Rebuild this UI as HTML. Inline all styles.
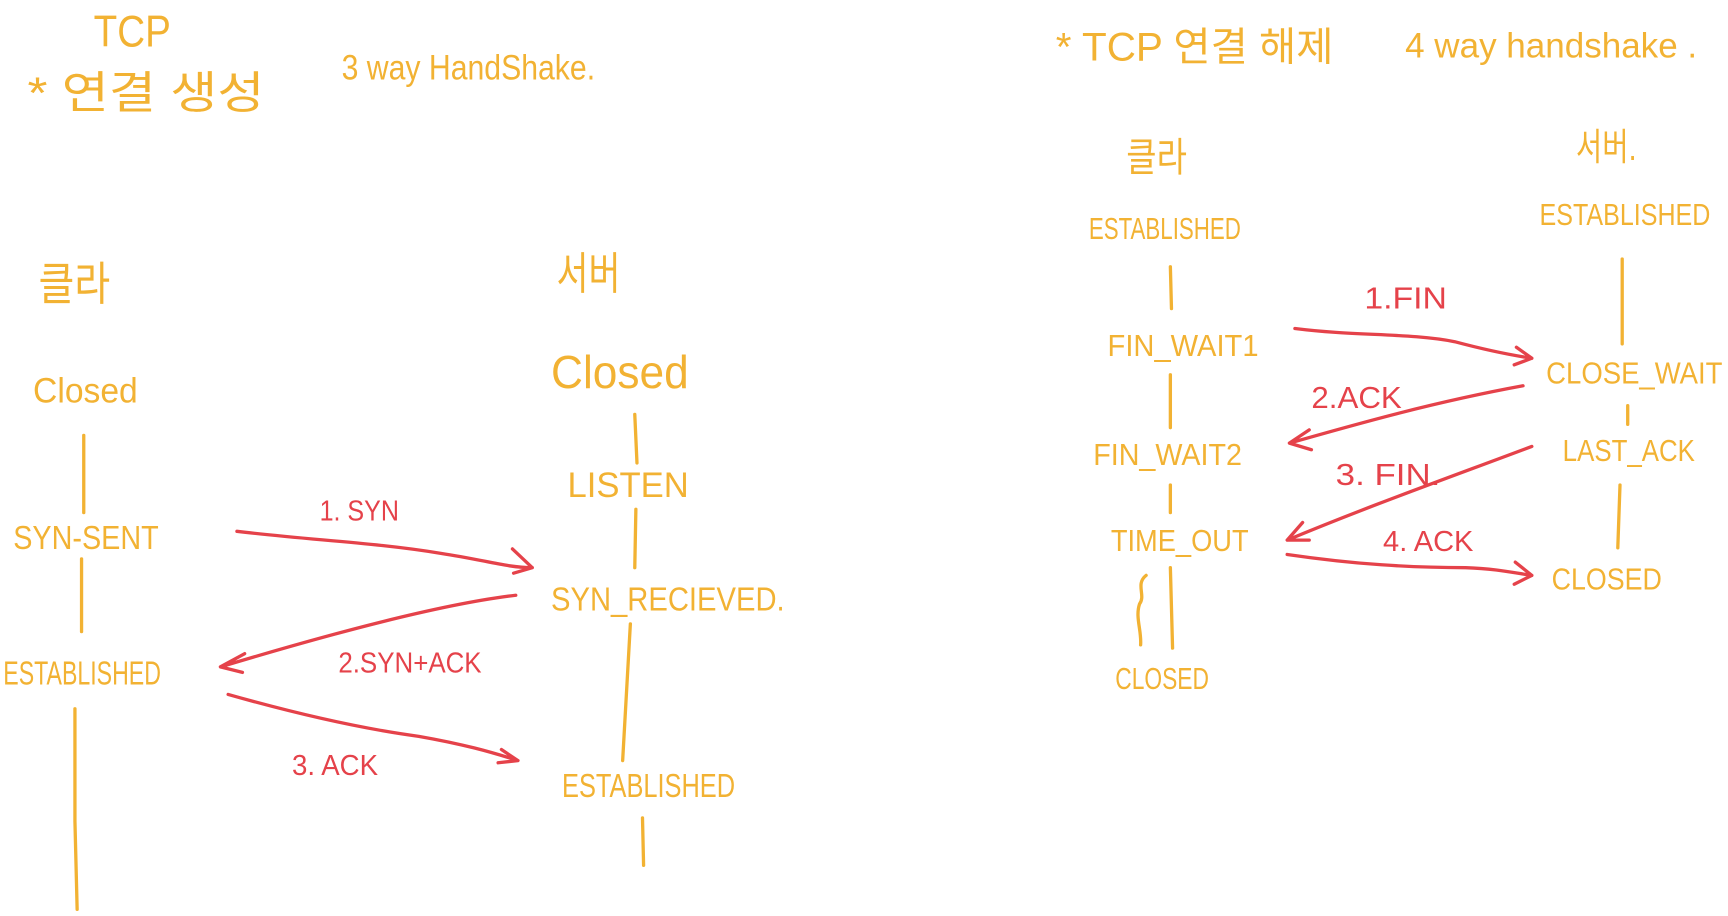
<!DOCTYPE html>
<html><head><meta charset="utf-8"><style>
html,body{margin:0;padding:0;background:#fff;width:1728px;height:916px;overflow:hidden}
svg{display:block}
text{font-family:"Liberation Sans","Noto Sans CJK KR",sans-serif}
.o{fill:#F2B233}
.r{fill:#E5424A}
.lo{stroke:#F2B233;stroke-width:3;fill:none;stroke-linecap:round}
.lr{stroke:#E5424A;stroke-width:3;fill:none;stroke-linecap:round;stroke-linejoin:round}
</style></head><body>
<svg width="1728" height="916" viewBox="0 0 1568 831" preserveAspectRatio="none" xmlns="http://www.w3.org/2000/svg">
<text class="o" x="85" y="42" font-size="40" textLength="70" lengthAdjust="spacingAndGlyphs">TCP</text>
<text class="o" x="25" y="98" font-size="40" textLength="215" lengthAdjust="spacingAndGlyphs">* 연결 생성</text>
<text class="o" x="310" y="72" font-size="32" textLength="230" lengthAdjust="spacingAndGlyphs">3 way HandShake.</text>
<text class="o" x="35" y="272" font-size="42" textLength="65" lengthAdjust="spacingAndGlyphs">클라</text>
<text class="o" x="505" y="262" font-size="40" textLength="58" lengthAdjust="spacingAndGlyphs">서버</text>
<text class="o" x="30" y="365" font-size="32" textLength="95" lengthAdjust="spacingAndGlyphs">Closed</text>
<text class="o" x="500" y="352" font-size="42" textLength="125" lengthAdjust="spacingAndGlyphs">Closed</text>
<path class="lo" d="M76 395 L76 465"/>
<path class="lo" d="M576 376 L578 420 M577 462 L576 515"/>
<text class="o" x="515" y="451" font-size="32" textLength="110" lengthAdjust="spacingAndGlyphs">LISTEN</text>
<text class="o" x="12" y="498" font-size="30" textLength="132" lengthAdjust="spacingAndGlyphs">SYN-SENT</text>
<path class="lo" d="M74 507 L74 573"/>
<text class="o" x="500" y="554" font-size="30" textLength="212" lengthAdjust="spacingAndGlyphs">SYN_RECIEVED.</text>
<text class="o" x="3" y="621" font-size="30" textLength="143" lengthAdjust="spacingAndGlyphs">ESTABLISHED</text>
<path class="lo" d="M68 643 L68 745 L70 825"/>
<path class="lo" d="M572 566 L565 690"/>
<text class="o" x="510" y="723" font-size="30" textLength="157" lengthAdjust="spacingAndGlyphs">ESTABLISHED</text>
<path class="lo" d="M583 742 L584 785"/>
<path class="lr" d="M215 482 C280 490 340 492 400 502 C440 508 460 515 483 515 M465 498 L483 515 L466 520"/>
<text class="r" x="290" y="472" font-size="26" textLength="72" lengthAdjust="spacingAndGlyphs">1. SYN</text>
<path class="lr" d="M468 540 C400 548 300 575 200 605 M222 593 L200 605 L220 610"/>
<text class="r" x="307" y="610" font-size="26" textLength="130" lengthAdjust="spacingAndGlyphs">2.SYN+ACK</text>
<path class="lr" d="M207 630 C260 645 320 660 380 668 C420 675 445 682 470 690 M455 680 L470 690 L452 692"/>
<text class="r" x="265" y="703" font-size="26" textLength="78" lengthAdjust="spacingAndGlyphs">3. ACK</text>
<text class="o" x="958" y="55" font-size="36" textLength="252" lengthAdjust="spacingAndGlyphs">* TCP 연결 해제</text>
<text class="o" x="1275" y="52" font-size="32" textLength="265" lengthAdjust="spacingAndGlyphs">4 way handshake .</text>
<text class="o" x="1022" y="155" font-size="36" textLength="55" lengthAdjust="spacingAndGlyphs">클라</text>
<text class="o" x="1430" y="145" font-size="34" textLength="55" lengthAdjust="spacingAndGlyphs">서버.</text>
<text class="o" x="988" y="217" font-size="28" textLength="138" lengthAdjust="spacingAndGlyphs">ESTABLISHED</text>
<text class="o" x="1397" y="204" font-size="28" textLength="155" lengthAdjust="spacingAndGlyphs">ESTABLISHED</text>
<path class="lo" d="M1062 242 L1063 280 M1472 235 L1472 312 M1062 340 L1062 388 M1477 368 L1477 385 M1470 440 L1468 497 M1062 440 L1062 465 M1062 515 L1064 588"/>
<path class="lo" d="M1040 522 C1030 530 1040 540 1034 548 C1030 560 1036 572 1035 585"/>
<text class="o" x="1005" y="323" font-size="28" textLength="137" lengthAdjust="spacingAndGlyphs">FIN_WAIT1</text>
<text class="o" x="1403" y="348" font-size="28" textLength="160" lengthAdjust="spacingAndGlyphs">CLOSE_WAIT</text>
<text class="o" x="992" y="422" font-size="28" textLength="135" lengthAdjust="spacingAndGlyphs">FIN_WAIT2</text>
<text class="o" x="1418" y="418" font-size="28" textLength="120" lengthAdjust="spacingAndGlyphs">LAST_ACK</text>
<text class="o" x="1008" y="500" font-size="28" textLength="125" lengthAdjust="spacingAndGlyphs">TIME_OUT</text>
<text class="o" x="1408" y="535" font-size="28" textLength="100" lengthAdjust="spacingAndGlyphs">CLOSED</text>
<text class="o" x="1012" y="625" font-size="28" textLength="85" lengthAdjust="spacingAndGlyphs">CLOSED</text>
<path class="lr" d="M1175 298 C1230 305 1280 302 1320 310 C1350 318 1370 322 1390 325 M1376 315 L1390 325 L1374 331"/>
<text class="r" x="1238" y="280" font-size="28" textLength="75" lengthAdjust="spacingAndGlyphs">1.FIN</text>
<path class="lr" d="M1382 350 C1300 365 1230 385 1170 402 M1188 390 L1170 402 L1190 408"/>
<text class="r" x="1190" y="370" font-size="28" textLength="82" lengthAdjust="spacingAndGlyphs">2.ACK</text>
<path class="lr" d="M1390 405 C1310 435 1240 460 1168 490 M1182 474 L1168 490 L1188 490"/>
<text class="r" x="1212" y="440" font-size="28" textLength="95" lengthAdjust="spacingAndGlyphs">3. FIN.</text>
<path class="lr" d="M1168 503 C1230 512 1280 515 1330 515 C1360 516 1375 520 1390 522 M1375 510 L1390 522 L1374 530"/>
<text class="r" x="1255" y="500" font-size="26" textLength="82" lengthAdjust="spacingAndGlyphs">4. ACK</text>
</svg>
</body></html>
